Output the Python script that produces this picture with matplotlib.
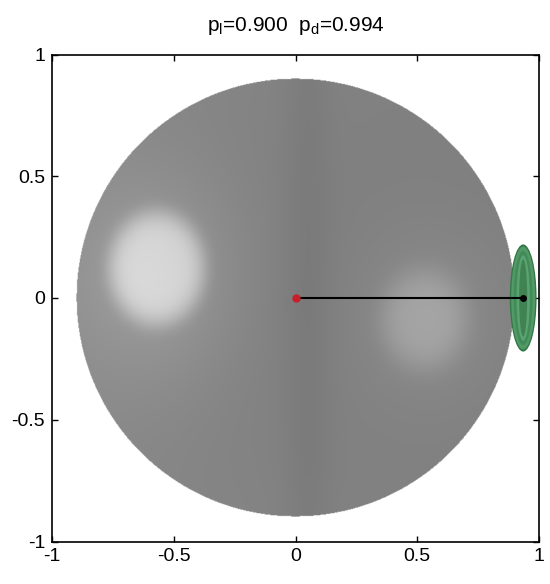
import numpy as np
import matplotlib
matplotlib.use("Agg")
import matplotlib.pyplot as plt
from matplotlib.patches import Ellipse

plt.rcParams['font.family'] = ['Liberation Sans', 'DejaVu Sans']
plt.rcParams['mathtext.default'] = 'regular'

# data
p_l = 0.900
p_d = 0.994
sphere_radius = 0.9
origin = (0.0, 0.0)
target = (0.935, 0.0)
ellipsoid_semi = (0.055, 0.22)
ticks = [-1, -0.5, 0, 0.5, 1]
tick_labels = ['-1', '-0.5', '0', '0.5', '1']

fig = plt.figure(figsize=(5.5, 5.84), dpi=100)
ax = fig.add_axes([52/550, 42/584, 487/550, 488/584])

# shaded sphere image
n = 700
xs = np.linspace(-1, 1, n)
X, Y = np.meshgrid(xs, xs)
R2 = X**2 + Y**2
inside = R2 <= sphere_radius**2
g = 126 - 5 * X + 5 * np.sqrt(np.clip(R2, 0, None)) / sphere_radius
g -= 6 * np.exp(-((X - 0.05) / 0.10) ** 2)
# broad soft glows
g += 22 * np.exp(-(((X + 0.6) / 0.38) ** 2 + ((Y - 0.08) / 0.45) ** 2))
g += 12 * np.exp(-(((X - 0.55) / 0.35) ** 2 + ((Y + 0.08) / 0.4) ** 2))
# sharper plateaus
d1 = np.sqrt(((X + 0.57) / 1.05) ** 2 + ((Y - 0.12) / 1.25) ** 2)
g += 62 * np.exp(-(d1 / 0.19) ** 6)
d2 = np.sqrt((X - 0.53) ** 2 + ((Y + 0.09) / 1.15) ** 2)
g += 26 * np.exp(-(d2 / 0.18) ** 4)
g = np.clip(g, 0, 255) / 255.0
img = np.zeros((n, n, 4))
img[..., 0] = g
img[..., 1] = g
img[..., 2] = g
img[..., 3] = inside.astype(float)
ax.imshow(img, extent=[-1, 1, -1, 1], origin='lower', interpolation='bilinear', zorder=1)

# green ellipsoid (layers)
cx, cy = target
a, b = ellipsoid_semi
layers = [(1.0, (0.20, 0.47, 0.28)), (0.9, (0.32, 0.60, 0.40)),
          (0.7, (0.26, 0.54, 0.35)), (0.5, (0.35, 0.64, 0.44)),
          (0.3, (0.25, 0.51, 0.32))]
for s, c in layers:
    ax.add_patch(Ellipse((cx, cy), 2 * a * s, 2 * b * (0.6 + 0.4 * s), color=c, zorder=3, lw=0))

# line and markers
ax.plot([origin[0], target[0]], [origin[1], target[1]], color='black', lw=1.5, zorder=4)
ax.plot([target[0]], [target[1]], 'o', color='black', ms=4, zorder=5)
ax.plot([origin[0]], [origin[1]], 'o', color='#c8202a', ms=5, zorder=5)

ax.set_xlim(-1, 1)
ax.set_ylim(-1, 1)
ax.set_xticks(ticks)
ax.set_xticklabels(tick_labels)
ax.set_yticks(ticks)
ax.set_yticklabels(tick_labels)
ax.tick_params(direction='in', length=4, width=1, top=True, right=True, labelsize=14, pad=5)
for sp in ax.spines.values():
    sp.set_linewidth(1.2)
ax.set_title(r'p$_{l}$=0.900  p$_{d}$=0.994', fontsize=15, pad=17)

fig.savefig('out.png', dpi=100)
